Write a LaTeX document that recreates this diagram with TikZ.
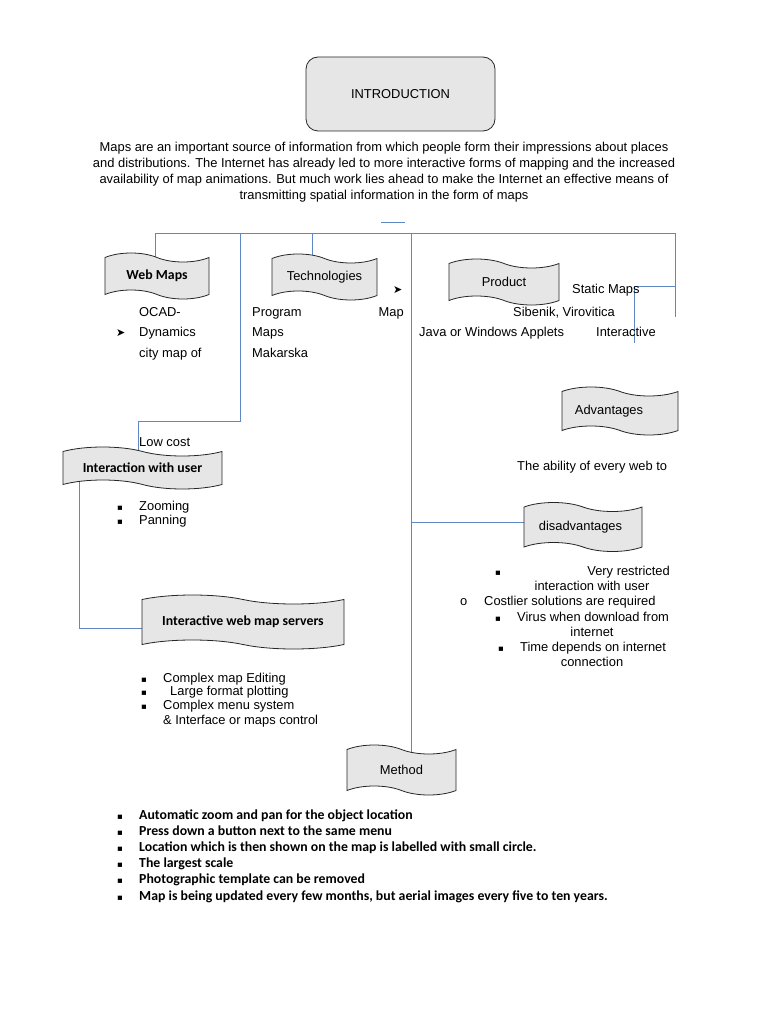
\documentclass[tikz,border=0pt]{standalone}
\usepackage{fontspec}
\setmainfont{Liberation Sans}
\newfontfamily\calibri{Carlito}
\newfontfamily\djv{DejaVu Sans}
\usetikzlibrary{shapes.symbols}
\pgfdeclarelayer{background}
\pgfsetlayers{background,main}
\definecolor{linecol}{RGB}{95,135,195}
\definecolor{boxgray}{RGB}{230,230,230}
\begin{document}
\begin{tikzpicture}[x=1pt,y=-1pt,
  conn/.style={draw=linecol, line width=0.7pt},
  tapebox/.style={tape, draw=black!85, fill=boxgray, line width=0.8pt,
     tape bend top=out and in, tape bend bottom=out and in,
     tape bend height=9pt, inner sep=0pt, font=\fontsize{12.9}{15}\selectfont},
  boldlab/.style={font=\calibri\bfseries\fontsize{13.8}{15}\selectfont},
  txt/.style={inner sep=0pt, anchor=base west, font=\fontsize{12.9}{15}\selectfont},
  txtr/.style={txt, anchor=base east},
  txtc/.style={txt, anchor=base},
  bul/.style={inner sep=0pt, anchor=base west, font=\djv\fontsize{8.5}{12}\selectfont},
  arr/.style={inner sep=0pt, anchor=base west, font=\djv\fontsize{11}{12}\selectfont},
  meth/.style={inner sep=0pt, anchor=base west, font=\calibri\bfseries\fontsize{13.8}{15}\selectfont}
]
\useasboundingbox (0,0) rectangle (768,1024);

% ---------- boxes ----------
\node[draw=black!85, fill=boxgray, line width=0.8pt, rounded corners=12pt,
      minimum width=189pt, minimum height=74pt, inner sep=0pt,
      font=\fontsize{12.9}{15}\selectfont] (intro) at (400.5,94) {INTRODUCTION};

\node[align=center, inner sep=0pt, font=\fontsize{12.9}{16}\selectfont] (para) at (384,172)
 {Maps are an important source of information from which people form their impressions about places\\
  and distributions. The Internet has already led to more interactive forms of mapping and the increased\\
  availability of map animations. But much work lies ahead to make the Internet an effective means of\\
  transmitting spatial information in the form of maps};

\node[tapebox, boldlab, minimum width=104pt, minimum height=46pt] (webmaps) at (157,276) {Web Maps};
\node[tapebox, minimum width=105pt, minimum height=46pt] (tech) at (324.5,277) {Technologies};
\node[tapebox, minimum width=110pt, minimum height=46pt] (product) at (504,282) {Product};
\node[tapebox, minimum width=116pt, minimum height=48pt] (adv) at (620,411) {Advantages\kern22pt\relax};
\node[tapebox, minimum width=118pt, minimum height=49pt] (dis) at (583,527) {disadvantages\kern5pt\relax};
\node[tapebox, boldlab, minimum width=159pt, minimum height=42pt] (iwu) at (142.5,468) {Interaction with user};
\node[tapebox, boldlab, minimum width=202pt, minimum height=54pt] (iwms) at (243,622) {Interactive web map servers};
\node[tapebox, minimum width=109pt, minimum height=50pt] (method) at (401.5,770) {Method};

% ---------- connectors ----------
\coordinate (busL) at (155,233);
\coordinate (busR) at (675,233);
\coordinate (b240) at (240,233);
\coordinate (k1) at (240,421);
\coordinate (k2) at (138,421);
\coordinate (b312) at (312,233);
\coordinate (trunk) at (411,233);
\coordinate (e675) at (675,317);
\coordinate (s1) at (634,286);
\coordinate (s2) at (634,343);
\coordinate (d1) at (411,522);
\coordinate (i2) at (79,628);
\coordinate (t1) at (381,222);
\coordinate (t2) at (405,222);

\begin{pgfonlayer}{background}
\draw[conn] (t1) -- (t2);
\draw[conn] (busL) -- (busR);
\draw[conn] (busL) -- (busL |- webmaps.center);
\draw[conn] (b240) -- (k1) -- (k2) -- (k2 |- iwu.center);
\draw[conn] (b312) -- (b312 |- tech.center);
\draw[conn] (trunk) -- (trunk |- method.center);
\draw[conn] (busR) -- (e675);
\draw[conn] (s1 -| busR) -- (s1) -- (s2);
\draw[conn] (d1) -- (d1 -| dis.center);
\draw[conn] (i2 |- iwu.center) -- (i2) -- (i2 -| iwms.center);
\end{pgfonlayer}

% ---------- texts ----------
\node[txt] (t-ocad) at (139,316.5) {OCAD-};
\node[arr] (b-dyn) at (116,336.5) {➤};
\node[txt] (t-dyn) at (139,336.5) {Dynamics};
\node[txt] (t-city) at (139,357.5) {city map of};
\node[txt] (t-prog) at (252,316.5) {Program};
\node[txt] (t-maps) at (252,336.5) {Maps};
\node[txt] (t-mak) at (252,357.5) {Makarska};
\node[arr] (b-map) at (393,293.5) {➤};
\node[txtr] (t-map) at (404,316.5) {Map};
\node[txt] (t-static) at (572,293.5) {Static Maps};
\node[txt] (t-sib) at (513,316.5) {Sibenik, Virovitica};
\node[txt] (t-java) at (419,336.5) {Java or Windows Applets};
\node[txt] (t-inter) at (596,336.5) {Interactive};
\node[txt] (t-low) at (139,446.5) {Low cost};
\node[bul] (b-zoom) at (117,510.5) {▪};
\node[txt] (t-zoom) at (139,510.5) {Zooming};
\node[bul] (b-pan) at (117,524.5) {▪};
\node[txt] (t-pan) at (139,524.5) {Panning};
\node[txt] (t-abil) at (517,470.5) {The ability of every web to};

\node[bul] (b-d1) at (495,575.5) {▪};
\node[txtr] (t-d1) at (670,575.5) {Very restricted};
\node[txtc] (t-d1b) at (592,590.5) {interaction with user};
\node[txt] (b-d2) at (460,605.5) {o};
\node[txt] (t-d2) at (484,605.5) {Costlier solutions are required};
\node[bul] (b-d3) at (495,621.5) {▪};
\node[txt] (t-d3) at (517,621.5) {Virus when download from};
\node[txtc] (t-d3b) at (592,636.5) {internet};
\node[bul] (b-d4) at (498,651.5) {▪};
\node[txt] (t-d4) at (520,651.5) {Time depends on internet};
\node[txtc] (t-d4b) at (592,666.5) {connection};

\node[bul] (b-s1) at (141,682) {▪};
\node[txt] (t-s1) at (163,682) {Complex map Editing};
\node[bul] (b-s2) at (141,695.5) {▪};
\node[txt] (t-s2) at (170,695.5) {Large format plotting};
\node[bul] (b-s3) at (141,709.5) {▪};
\node[txt] (t-s3) at (163,709.5) {Complex menu system};
\node[txt] (t-s4) at (163,724.5) {\& Interface or maps control};

\node[bul] (b-m1) at (117,819.5) {▪};
\node[meth] (t-m1) at (139,819.5) {Automatic zoom and pan for the object location};
\node[bul] (b-m2) at (117,835.5) {▪};
\node[meth] (t-m2) at (139,835.5) {Press down a button next to the same menu};
\node[bul] (b-m3) at (117,851.5) {▪};
\node[meth] (t-m3) at (139,851.5) {Location which is then shown on the map is labelled with small circle.};
\node[bul] (b-m4) at (117,867.5) {▪};
\node[meth] (t-m4) at (139,867.5) {The largest scale};
\node[bul] (b-m5) at (117,883.5) {▪};
\node[meth] (t-m5) at (139,883.5) {Photographic template can be removed};
\node[bul] (b-m6) at (117,900.5) {▪};
\node[meth] (t-m6) at (139,900.5) {Map is being updated every few months, but aerial images every five to ten years.};
\end{tikzpicture}
\end{document}
